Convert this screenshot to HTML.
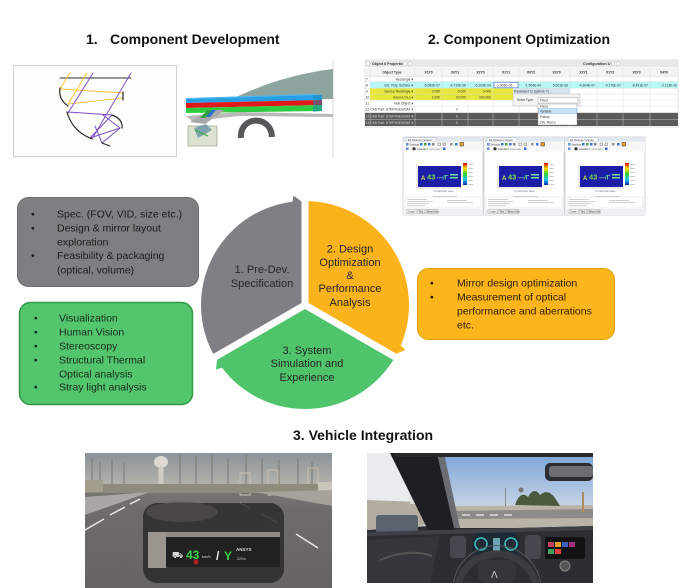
<!DOCTYPE html>
<html><head><meta charset="utf-8">
<style>
html,body{margin:0;padding:0;background:#fff;width:694px;height:588px;overflow:hidden;}
svg{display:block;}
text{font-family:"Liberation Sans",sans-serif;}
</style></head><body>
<svg width="694" height="588" viewBox="0 0 694 588" xmlns="http://www.w3.org/2000/svg">
<defs>
  <linearGradient id="cbar" x1="0" y1="0" x2="0" y2="1">
    <stop offset="0" stop-color="#e00000"/><stop offset="0.25" stop-color="#ffe000"/>
    <stop offset="0.5" stop-color="#30d030"/><stop offset="0.75" stop-color="#20c8e8"/>
    <stop offset="1" stop-color="#1020b0"/>
  </linearGradient>
  <linearGradient id="skyL" x1="0" y1="0" x2="0" y2="1">
    <stop offset="0" stop-color="#8c9397"/><stop offset="1" stop-color="#b9b8b0"/>
  </linearGradient>
  <linearGradient id="roadL" x1="0" y1="0" x2="0" y2="1">
    <stop offset="0" stop-color="#8e8b87"/><stop offset="0.4" stop-color="#6f6d6b"/><stop offset="1" stop-color="#666462"/>
  </linearGradient>
  <linearGradient id="skyR" x1="0" y1="0" x2="0" y2="1">
    <stop offset="0" stop-color="#7fa6d8"/><stop offset="1" stop-color="#e2e8ec"/>
  </linearGradient>
  <clipPath id="clipL"><rect x="85" y="453" width="247" height="135"/></clipPath>
  <clipPath id="clipR"><rect x="367" y="453" width="226" height="130"/></clipPath>
  <g id="panel">
    <rect x="0" y="0" width="80" height="78" fill="#fff" stroke="#b8b8b8" stroke-width="0.6"/>
    <rect x="0" y="0" width="80" height="4.5" fill="#e2e7ee"/>
    <rect x="3" y="0.8" width="30" height="3.7" fill="#fff" stroke="#8fa6c0" stroke-width="0.4"/>
    <text x="5" y="3.8" font-size="2.8" fill="#335">E1 Detector Viewer</text>
    <rect x="0" y="4.5" width="80" height="10" fill="#f7f7f7"/>
    <g stroke="none">
      <rect x="3" y="6" width="2.5" height="2.5" fill="#6a8fd0"/>
      <text x="6.5" y="8.5" font-size="2.6" fill="#444">Settings</text>
      <rect x="17" y="6" width="2.5" height="2.5" fill="#3a7ad0"/>
      <rect x="21" y="6" width="2.5" height="2.5" fill="#4aa04a"/>
      <rect x="25" y="6" width="2.5" height="2.5" fill="#3a7ad0"/>
      <rect x="29" y="6" width="2.5" height="2.5" fill="#888"/>
      <rect x="35" y="6" width="2.5" height="2.5" fill="none" stroke="#555" stroke-width="0.4"/>
      <rect x="40" y="6" width="2.5" height="2.5" fill="none" stroke="#555" stroke-width="0.4"/>
      <rect x="47" y="6" width="2.5" height="2.5" fill="#999"/>
      <rect x="52" y="6" width="2.5" height="2.5" fill="#3a7ad0"/>
      <rect x="57" y="5.5" width="3.5" height="3.5" fill="#f0a020" stroke="#333" stroke-width="0.5"/>
      <rect x="3" y="10.5" width="2.5" height="2.5" fill="#6a8fd0"/>
      <circle cx="11" cy="11.8" r="1.6" fill="#333"/>
      <text x="14" y="13" font-size="2.6" fill="#444">Standard</text>
      <text x="26" y="13" font-size="2.6" fill="#888">Automatic</text>
      <rect x="40" y="10.5" width="2.5" height="2.5" fill="#3a6ad0"/>
    </g>
    <line x1="14" y1="27" x2="14" y2="51" stroke="#999" stroke-width="0.4"/>
    <line x1="14" y1="51" x2="58" y2="51" stroke="#999" stroke-width="0.4"/>
    <rect x="15" y="29" width="43" height="21" fill="#1c1ea6"/>
    <text x="18" y="43" font-size="6" font-weight="bold" fill="#c8e04a">A</text>
    <text x="24" y="42.5" font-size="7.5" font-weight="bold" fill="#7fe04a">43</text>
    <text x="34" y="42.5" font-size="6" font-weight="bold" fill="#70d8a0">—/Γ</text>
    <rect x="47" y="37" width="8" height="1.5" fill="#70e0a0"/>
    <rect x="47" y="40" width="8" height="1.5" fill="#70e0a0"/>
    <text x="30" y="55" font-size="2.4" fill="#777">X Coordinate Value</text>
    <rect x="60" y="26" width="4" height="22" fill="url(#cbar)"/>
    <g fill="#aaa">
      <rect x="65" y="27" width="5" height="0.6"/><rect x="65" y="31" width="5" height="0.6"/>
      <rect x="65" y="35" width="5" height="0.6"/><rect x="65" y="39" width="5" height="0.6"/>
      <rect x="65" y="43" width="5" height="0.6"/><rect x="65" y="47" width="5" height="0.6"/>
    </g>
    <rect x="2" y="60" width="76" height="11" fill="#fff" stroke="#d0d0d0" stroke-width="0.4"/>
    <g fill="#bbb">
      <rect x="4" y="62" width="20" height="0.7"/><rect x="4" y="64" width="26" height="0.7"/>
      <rect x="4" y="66" width="22" height="0.7"/><rect x="4" y="68" width="18" height="0.7"/>
      <rect x="44" y="63" width="20" height="0.7"/><rect x="44" y="65" width="26" height="0.7"/>
      <rect x="30" y="59" width="24" height="0.7"/>
    </g>
    <rect x="0" y="72" width="80" height="6" fill="#eef0f3"/>
    <rect x="4" y="72.5" width="9" height="4" fill="#fff" stroke="#999" stroke-width="0.4"/>
    <text x="5" y="75.6" font-size="2.5" fill="#333">Graph</text>
    <rect x="14" y="72.5" width="8" height="4" fill="#e6e6e6" stroke="#999" stroke-width="0.4"/>
    <text x="15.5" y="75.6" font-size="2.5" fill="#333">Text</text>
    <rect x="23" y="72.5" width="12" height="4" fill="#e6e6e6" stroke="#999" stroke-width="0.4"/>
    <text x="24" y="75.6" font-size="2.5" fill="#333">Beam Info</text>
  </g>
</defs>

<!-- ============ HEADINGS ============ -->
<text x="86" y="44" font-size="14" font-weight="bold" fill="#111">1.</text>
<text x="110" y="44" font-size="14" font-weight="bold" fill="#111">Component Development</text>
<text x="428" y="44" font-size="14" font-weight="bold" fill="#111">2. Component Optimization</text>
<text x="293" y="440" font-size="14" font-weight="bold" fill="#111">3. Vehicle Integration</text>

<!-- ============ TOP LEFT: optics sketch ============ -->
<rect x="13.5" y="65.5" width="163" height="91" fill="#fdfdfb" stroke="#d2d2d2" stroke-width="1"/>
<g fill="none" stroke-linecap="round">
  <line x1="60" y1="78" x2="131" y2="78" stroke="#333" stroke-width="1"/>
  <g stroke="#f7c23e" stroke-width="1">
    <line x1="70" y1="73" x2="60" y2="89"/>
    <line x1="87" y1="73" x2="68" y2="104"/>
    <line x1="60" y1="89" x2="123" y2="93"/>
    <line x1="68" y1="104" x2="123" y2="98"/>
  </g>
  <g stroke="#7d4fc4" stroke-width="1">
    <line x1="93" y1="73" x2="68" y2="113"/>
    <line x1="131" y1="73" x2="92" y2="139"/>
    <line x1="68" y1="112" x2="112" y2="115"/>
    <line x1="112" y1="115" x2="90" y2="138"/>
    <line x1="103" y1="115" x2="120" y2="128"/>
    <line x1="90" y1="138" x2="120" y2="128"/>
    <line x1="102" y1="143" x2="120" y2="128"/>
    <line x1="102" y1="143" x2="95" y2="126"/>
  </g>
  <g stroke="#2a2a2a" stroke-width="1.2">
    <line x1="123" y1="92" x2="123" y2="100"/>
    <path d="M60,88 Q58,99 68,106"/>
    <path d="M67,112 Q72,131 92,139"/>
    <path d="M112,115 Q123,119 122,128"/>
    <line x1="102" y1="143" x2="110" y2="146"/>
  </g>
</g>

<!-- ============ TOP: 3D render ============ -->
<line x1="333" y1="60" x2="333" y2="158" stroke="#d8d8d8" stroke-width="1"/>
<path d="M228,101 C258,86 292,74 333,69 L333,99 L300,100 Z" fill="#8ea49f"/>
<polygon points="186,99 313,95 322,95 322,100 186,103" fill="#28a0e8"/>
<polygon points="186,98 313,94 322,95 186,99" fill="#4cb8f0"/>
<polygon points="186,103 322,100 322,105 186,108" fill="#e01818"/>
<polygon points="186,108 322,105 322,111 186,113" fill="#30cc40"/>
<polygon points="313,95 322,95 322,111 313,112" fill="#1a88c0" opacity="0.5"/>
<polygon points="186,116 240,112 333,114 333,117 240,116 192,121" fill="#b9b9b9"/>
<polygon points="190,122 210,110 225,110 205,124" fill="#a9a9a9"/>
<polygon points="200,118 208,110 213,110 205,118" fill="#30a040"/>
<polygon points="206,117 212,110 216,110 210,117" fill="#2a70d0"/>
<path d="M241,138 C239,116 271,114 272,137" fill="none" stroke="#56585a" stroke-width="6"/>
<rect x="188" y="126" width="29" height="20" fill="#dbe2d2" stroke="#a6aa9c" stroke-width="0.8"/>
<polygon points="194,128 206,124 212,130 198,138" fill="#5a8aa0" opacity="0.7"/>
<line x1="195" y1="130" x2="208" y2="136" stroke="#30b040" stroke-width="1"/>

<!-- ============ TOP RIGHT: table ============ -->
<g>
  <rect x="365" y="60" width="313" height="67" fill="#fff" stroke="#c4c4c4" stroke-width="0.5"/>
  <rect x="365" y="60" width="313" height="7" fill="#e8e8e8"/>
  <circle cx="368" cy="63.5" r="2" fill="#fff" stroke="#aaa" stroke-width="0.4"/>
  <text x="372" y="65" font-size="3.6" font-weight="bold" fill="#333">Object  8 Properties</text>
  <circle cx="405" cy="63.5" r="2" fill="#fff" stroke="#aaa" stroke-width="0.4"/>
  <circle cx="410" cy="63.5" r="2" fill="#fff" stroke="#aaa" stroke-width="0.4"/>
  <text x="583" y="65" font-size="3.6" font-weight="bold" fill="#333">Configuration 1/1</text>
  <circle cx="613" cy="63.5" r="2" fill="#fff" stroke="#aaa" stroke-width="0.4"/>
  <circle cx="618" cy="63.5" r="2" fill="#fff" stroke="#aaa" stroke-width="0.4"/>
  <rect x="365" y="67.5" width="313" height="9.2" fill="#f3f3f3"/>
  <g font-size="3.4" font-weight="bold" fill="#333" text-anchor="middle">
    <text x="392" y="73.5">Object Type</text>
    <text x="428.5" y="73.5">X1Y0</text><text x="455" y="73.5">X0Y1</text>
    <text x="480.5" y="73.5">X2Y0</text><text x="506" y="73.5">X1Y1</text>
    <text x="531" y="73.5">X0Y2</text><text x="556.5" y="73.5">X3Y0</text>
    <text x="583.5" y="73.5">X2Y1</text><text x="610" y="73.5">X1Y2</text>
    <text x="636.5" y="73.5">X0Y3</text><text x="664" y="73.5">X4Y0</text>
  </g>
  <rect x="370" y="81.7" width="308" height="6.6" fill="#b8f5f5"/>
  <rect x="370" y="88.3" width="143" height="11.7" fill="#e8e83a"/>
  <rect x="365" y="112.7" width="313" height="13.3" fill="#5a5a5a"/>
  <g stroke="#d8d8d8" stroke-width="0.4">
    <line x1="370" y1="67.5" x2="370" y2="126"/>
    <line x1="415" y1="67.5" x2="415" y2="126"/><line x1="442" y1="67.5" x2="442" y2="126"/>
    <line x1="468" y1="67.5" x2="468" y2="126"/><line x1="493" y1="67.5" x2="493" y2="126"/>
    <line x1="519" y1="67.5" x2="519" y2="126"/><line x1="543" y1="67.5" x2="543" y2="126"/>
    <line x1="570" y1="67.5" x2="570" y2="126"/><line x1="597" y1="67.5" x2="597" y2="126"/>
    <line x1="623" y1="67.5" x2="623" y2="126"/><line x1="650" y1="67.5" x2="650" y2="126"/>
    <line x1="365" y1="76.7" x2="678" y2="76.7"/><line x1="365" y1="81.7" x2="678" y2="81.7"/>
    <line x1="365" y1="88.3" x2="678" y2="88.3"/><line x1="365" y1="94" x2="678" y2="94"/>
    <line x1="365" y1="100" x2="678" y2="100"/><line x1="365" y1="106" x2="678" y2="106"/>
    <line x1="365" y1="112.7" x2="678" y2="112.7"/><line x1="365" y1="119.3" x2="678" y2="119.3"/>
  </g>
  <g font-size="3.3" fill="#333">
    <text x="366" y="80.5">7</text><text x="366" y="86.5">8</text><text x="366" y="92.5">9</text>
    <text x="365.5" y="98.5">10</text><text x="365.5" y="104.5">11</text><text x="365.5" y="110.5">12</text>
  </g>
  <g font-size="3.3" fill="#ccc"><text x="365.5" y="117.5">13</text><text x="365.5" y="124">14</text></g>
  <g font-size="3.3" fill="#333" text-anchor="end">
    <text x="413" y="80.5">Rectangle ▾</text>
    <text x="413" y="86.5">Ext. Poly. Surface ▾</text>
    <text x="413" y="92.5">Source Rectangle ▾</text>
    <text x="413" y="98.5">Source DLL ▾</text>
    <text x="413" y="104.5">Null Object ▾</text>
    <text x="413" y="110.5">CAD Part: STEP/IGES/SAT ▾</text>
  </g>
  <g font-size="3.3" fill="#ddd" text-anchor="end">
    <text x="413" y="117.5">CAD Part: STEP/IGES/SAT ▾</text>
    <text x="413" y="124">CAD Part: STEP/IGES/SAT ▾</text>
    <text x="458" y="117.5">0</text><text x="458" y="124">0</text>
  </g>
  <g font-size="3.3" fill="#333" text-anchor="end">
    <text x="440" y="86.5">-6.082E-07</text><text x="466" y="86.5">-4.710E-06</text>
    <text x="491" y="86.5">-5.200E-04</text>
    <text x="541" y="86.5">-1.564E-04</text><text x="568" y="86.5">5.601E-08</text>
    <text x="595" y="86.5">-4.304E-07</text><text x="621" y="86.5">4.176E-07</text>
    <text x="648" y="86.5">-8.491E-07</text><text x="677" y="86.5">-3.113E-10</text>
    <text x="440" y="92.5">0.000</text><text x="466" y="92.5">0.000</text><text x="491" y="92.5">0.000</text>
    <text x="440" y="98.5">1.000</text><text x="466" y="98.5">20.000</text><text x="491" y="98.5">200.000</text>
    <text x="458" y="110.5">0</text>
  </g>
  <rect x="494" y="82.2" width="24" height="5.6" fill="#fff" stroke="#2a6ad0" stroke-width="0.6"/>
  <text x="496" y="86.5" font-size="3.3" fill="#333">-1.903E-05</text>
  <rect x="513" y="88.3" width="57" height="5.7" fill="#d6e2ee"/>
  <text x="514" y="92.5" font-size="3.2" fill="#333">Parameter 11 (sphere Y)…</text>
  <rect x="513" y="94" width="67" height="12" fill="#f4f4f4" stroke="#aaa" stroke-width="0.4"/>
  <text x="517" y="101" font-size="3.2" fill="#333">Solve Type:</text>
  <rect x="538" y="97.5" width="40" height="5.5" fill="#fff" stroke="#999" stroke-width="0.4"/>
  <text x="540" y="101.5" font-size="3.2" fill="#333">Fixed</text>
  <rect x="538" y="104" width="39" height="21" fill="#fff" stroke="#888" stroke-width="0.4"/>
  <rect x="538.5" y="108.5" width="38" height="5.2" fill="#c8e2f8" stroke="#6aa6dc" stroke-width="0.3"/>
  <g font-size="3.2" fill="#333">
    <text x="540" y="107.5">Fixed</text><text x="540" y="112.5">Variable</text>
    <text x="540" y="118">Pickup</text><text x="540" y="123.3">ZPL Macro</text>
  </g>
</g>

<!-- ============ Detector panels ============ -->
<use href="#panel" x="403" y="137"/>
<use href="#panel" x="484" y="137"/>
<use href="#panel" x="565" y="137"/>

<!-- ============ CYCLE ============ -->
<path d="M305,305 L214.93,357 A104,104 0 0 1 292.33,201.77 L293.5,195.6 L305,204 Z" fill="#808084"/>
<path d="M305,305 L305,201 A104,104 0 0 1 400.73,345.64 L405.49,349.74 L392.47,355.5 Z" fill="#fbb31b"/>
<path d="M305,305 L395.07,357 A104,104 0 0 1 221.94,367.59 L216.01,369.66 L217.53,355.5 Z" fill="#50c46b"/>
<g stroke="#fff" stroke-width="7" stroke-linecap="butt">
  <line x1="305" y1="305" x2="305" y2="180"/>
  <line x1="305" y1="305" x2="413.25" y2="367.5"/>
  <line x1="305" y1="305" x2="196.75" y2="367.5"/>
</g>
<circle cx="305" cy="305" r="3.5" fill="#fff"/>
<g font-size="11" fill="#262626" text-anchor="middle">
  <text x="262" y="273">1. Pre-Dev.</text>
  <text x="262" y="287">Specification</text>
  <text x="350" y="252.5">2. Design</text>
  <text x="350" y="266">Optimization</text>
  <text x="350" y="279">&amp;</text>
  <text x="350" y="292">Performance</text>
  <text x="350" y="306">Analysis</text>
  <text x="307" y="354">3. System</text>
  <text x="307" y="367">Simulation and</text>
  <text x="307" y="381">Experience</text>
</g>

<!-- ============ BOXES ============ -->
<rect x="17.5" y="197.5" width="181" height="89" rx="11" fill="#7f7f82" stroke="#6e6e70" stroke-width="1"/>
<g font-size="10.5" fill="#1c1c1c">
  <text x="31" y="217.5">•</text><text x="57" y="217.5">Spec. (FOV, VID, size etc.)</text>
  <text x="31" y="231.5">•</text><text x="57" y="231.5">Design &amp; mirror layout</text>
  <text x="57" y="245.5">exploration</text>
  <text x="31" y="259">•</text><text x="57" y="259">Feasibility &amp; packaging</text>
  <text x="57" y="273.5">(optical, volume)</text>
</g>

<rect x="19.5" y="302.5" width="173" height="102" rx="11" fill="#52c56d" stroke="#2f9a45" stroke-width="1.5"/>
<g font-size="10.5" fill="#1a2a1a">
  <text x="34" y="321.5">•</text><text x="59" y="321.5">Visualization</text>
  <text x="34" y="335.5">•</text><text x="59" y="335.5">Human Vision</text>
  <text x="34" y="349.5">•</text><text x="59" y="349.5">Stereoscopy</text>
  <text x="34" y="363.5">•</text><text x="59" y="363.5">Structural Thermal</text>
  <text x="59" y="377.5">Optical analysis</text>
  <text x="34" y="390.5">•</text><text x="59" y="390.5">Stray light analysis</text>
</g>

<rect x="417.5" y="268.5" width="197" height="71" rx="11" fill="#fcb51b" stroke="#e3a012" stroke-width="1"/>
<g font-size="10.5" fill="#2a1c00">
  <text x="430" y="286.5">•</text><text x="457" y="286.5">Mirror design optimization</text>
  <text x="430" y="300.5">•</text><text x="457" y="300.5">Measurement of optical</text>
  <text x="457" y="314.5">performance and aberrations</text>
  <text x="457" y="328.5">etc.</text>
</g>

<!-- ============ BOTTOM LEFT PHOTO ============ -->
<g clip-path="url(#clipL)">
  <rect x="85" y="453" width="247" height="135" fill="url(#roadL)"/>
  <rect x="85" y="453" width="247" height="38" fill="url(#skyL)"/>
  <g stroke="#7a7970" stroke-width="1">
    <line x1="92" y1="458" x2="92" y2="490"/><line x1="100" y1="462" x2="100" y2="490"/>
    <line x1="112" y1="460" x2="112" y2="490"/><line x1="124" y1="463" x2="124" y2="490"/>
    <line x1="180" y1="455" x2="180" y2="490"/><line x1="196" y1="456" x2="196" y2="490"/>
    <line x1="212" y1="455" x2="212" y2="490"/><line x1="228" y1="458" x2="228" y2="490"/>
    <line x1="246" y1="455" x2="246" y2="490"/><line x1="262" y1="458" x2="262" y2="490"/>
    <line x1="279" y1="460" x2="279" y2="490"/><line x1="298" y1="458" x2="298" y2="490"/>
    <line x1="312" y1="462" x2="312" y2="490"/>
  </g>
  <g stroke="#c9bfae" stroke-width="1" fill="none">
    <rect x="240" y="473" width="10" height="22"/><rect x="268" y="470" width="10" height="25"/>
    <rect x="308" y="468" width="10" height="28"/>
  </g>
  <ellipse cx="161" cy="462" rx="7" ry="6" fill="#dcdad2"/>
  <rect x="158.5" y="466" width="5" height="24" fill="#cfccc3"/>
  <rect x="85" y="484" width="247" height="9" fill="#8d8b7d"/>
  <rect x="85" y="480" width="18" height="12" fill="#a39d8e"/>
  <rect x="318" y="482" width="14" height="10" fill="#c9c6bc"/>
  <polygon points="85,497 150,492 85,515" fill="#a9a7a3"/>
  <polygon points="255,492 332,490 332,506" fill="#a5a29b"/>
  <g stroke="#e8e8e6" stroke-width="1.5">
    <line x1="85" y1="530" x2="104" y2="519"/><line x1="110" y1="515" x2="125" y2="507"/>
    <line x1="130" y1="504" x2="140" y2="499"/>
    <line x1="240" y1="503" x2="250" y2="508"/><line x1="262" y1="514" x2="278" y2="523"/>
    <line x1="296" y1="534" x2="318" y2="548"/>
  </g>
  <rect x="143" y="503" width="141" height="80" rx="14" fill="#2e2d2c" opacity="0.88"/>
  <ellipse cx="182" cy="512" rx="36" ry="10" fill="#4d4c4a" opacity="0.8"/>
  <rect x="148" y="532" width="132" height="5" fill="#8f8c87"/>
  <rect x="148" y="532" width="18" height="36" fill="#9a968f"/>
  <rect x="166" y="537" width="114" height="30" fill="#212121"/>
  <text x="172" y="558" font-size="9" fill="#d8d8d8">⛟</text>
  <text x="186" y="559" font-size="12" font-weight="bold" fill="#3cd24a">43</text>
  <text x="202" y="558" font-size="4" fill="#ddd">km/h</text>
  <circle cx="196" cy="562" r="2.5" fill="#b02020"/>
  <text x="216" y="560" font-size="12" font-weight="bold" fill="#eee">/</text>
  <text x="224" y="560" font-size="12" font-weight="bold" fill="#3cd24a">Y</text>
  <text x="236" y="551" font-size="4.5" font-weight="bold" fill="#ddd">ANSYS</text>
  <text x="237" y="560" font-size="3.5" fill="#ccc">220m</text>
</g>

<!-- ============ BOTTOM RIGHT PHOTO ============ -->
<g clip-path="url(#clipR)">
  <rect x="367" y="453" width="226" height="130" fill="#2b2d31"/>
  <polygon points="367,453 395,453 428,526 367,530" fill="#e8ecef"/>
  <polygon points="367,500 420,502 430,525 367,530" fill="#b3ada1"/>
  <polygon points="430,455 593,455 593,528 455,528" fill="url(#skyR)"/>
  <polygon points="448,506 593,505 593,528 455,528" fill="#bab3a7"/>
  <polygon points="450,511 593,509 593,518 452,519" fill="#8c8b89"/>
  <g stroke="#f2f2f2" stroke-width="1.2">
    <line x1="462" y1="515" x2="470" y2="515"/><line x1="476" y1="515" x2="484" y2="515"/>
    <line x1="490" y1="515" x2="498" y2="515"/><line x1="504" y1="515" x2="512" y2="515"/>
  </g>
  <path d="M515,505 Q520,490 528,497 Q534,486 540,495 Q548,488 555,498 L560,506 Z" fill="#4b5a3c"/>
  <rect x="505" y="488" width="1" height="18" fill="#888"/>
  <circle cx="521" cy="490" r="2.5" fill="#777"/>
  <rect x="582" y="492" width="2" height="20" fill="#b08a5a"/>
  <rect x="410" y="494" width="16" height="10" fill="#dcdcd8"/>
  <polygon points="390,453 437,453 455,530 428,530" fill="#1e1f22"/>
  <polygon points="437,453 444,453 460,528 454,528" fill="#6a6d71"/>
  <rect x="395" y="453" width="198" height="4" fill="#2a2a2c"/>
  <rect x="376" y="515" width="42" height="30" rx="3" fill="#5c6370"/>
  <rect x="545" y="463" width="48" height="18" rx="5" fill="#2c2d30"/>
  <rect x="549" y="466" width="44" height="11" rx="3" fill="#6b6d70"/>
  <polygon points="367,532 593,526 593,583 367,583" fill="#2c2e33"/>
  <polygon points="367,532 593,526 593,530 367,536" fill="#3e4147"/>
  <rect x="450" y="536" width="16" height="22" rx="4" fill="#45484e"/>
  <rect x="525" y="535" width="16" height="24" rx="4" fill="#45484e"/>
  <rect x="472" y="533" width="48" height="22" rx="8" fill="#1c2a36"/>
  <circle cx="481" cy="544" r="6" fill="none" stroke="#40c0c0" stroke-width="1.5"/>
  <circle cx="511" cy="544" r="6" fill="none" stroke="#40c0c0" stroke-width="1.5"/>
  <rect x="493" y="538" width="7" height="14" fill="#8fd8e8" opacity="0.7"/>
  <rect x="545" y="537" width="40" height="22" rx="2" fill="#121212"/>
  <rect x="548" y="542" width="6" height="5" fill="#c04060"/>
  <rect x="555" y="542" width="6" height="5" fill="#e0a030"/>
  <rect x="562" y="542" width="6" height="5" fill="#4060c0"/>
  <rect x="569" y="542" width="6" height="5" fill="#a03080"/>
  <rect x="548" y="549" width="6" height="5" fill="#40a060"/>
  <rect x="555" y="549" width="6" height="5" fill="#e04040"/>
  <circle cx="565" cy="566" r="5" fill="#555" stroke="#888" stroke-width="1"/>
  <path d="M458.5,583 A40,40 0 0 1 535.5,583" fill="none" stroke="#3a3c41" stroke-width="7"/>
  <path d="M453.5,583 A44,44 0 0 1 540.5,583" fill="none" stroke="#55585e" stroke-width="1"/>
  <rect x="478" y="560" width="38" height="23" rx="8" fill="#34363b"/>
  <text x="491" y="578" font-size="10" fill="#ccc">Λ</text>
  <polygon points="367,540 440,536 430,583 367,583" fill="#33363b"/>
  <path d="M380,560 Q410,548 432,556" fill="none" stroke="#555" stroke-width="2"/>
</g>
</svg>
</body></html>
